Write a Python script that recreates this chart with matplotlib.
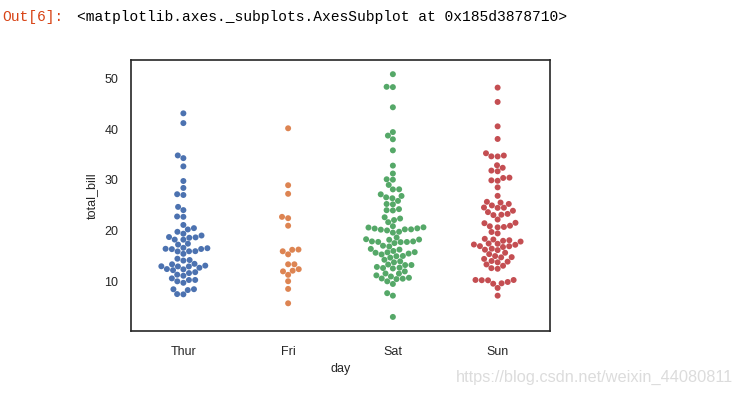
import pandas as pd
import matplotlib
matplotlib.use('Agg')
import matplotlib.pyplot as plt
import seaborn as sns

# total_bill by day (tips data)
days = ['Thur', 'Fri', 'Sat', 'Sun']

thur_bill = [27.20, 22.76, 17.29, 19.44, 16.66, 10.07, 32.68, 15.98, 34.83, 13.03,
             18.28, 24.71, 21.16, 10.65, 12.43, 24.08, 11.69, 13.42, 14.26, 15.95,
             12.48, 29.80, 8.52, 14.52, 11.38, 22.82, 19.08, 20.27, 11.17, 12.26,
             18.26, 8.51, 10.33, 14.15, 16.00, 13.16, 17.47, 34.30, 41.19, 27.05,
             16.43, 8.35, 18.64, 11.87, 9.78, 7.51, 19.81, 28.44, 15.48, 16.58,
             7.56, 10.34, 43.11, 13.00, 13.51, 18.71, 12.74, 13.00, 16.40, 20.53,
             16.47, 18.78]
fri_bill = [28.97, 22.49, 5.75, 16.32, 22.75, 40.17, 27.28, 12.03, 21.01, 12.46,
            11.35, 15.38, 12.16, 13.42, 8.58, 15.98, 13.42, 16.27, 10.09]
sat_bill = [20.65, 17.92, 20.29, 15.77, 39.42, 19.82, 17.81, 13.37, 12.69, 21.70,
            19.65, 9.55, 18.35, 15.06, 20.69, 17.78, 24.06, 16.31, 16.93, 18.69,
            31.27, 16.04, 38.01, 26.41, 11.24, 48.27, 20.29, 13.81, 11.02, 18.29,
            17.59, 20.08, 16.45, 3.07, 20.23, 15.01, 12.02, 17.07, 26.86, 25.28,
            14.73, 10.51, 17.92, 44.30, 22.42, 20.92, 15.36, 20.49, 25.21, 18.24,
            14.31, 14.00, 7.25, 10.59, 10.63, 50.81, 15.81, 26.59, 38.73, 24.27,
            12.76, 30.06, 25.89, 48.33, 13.27, 28.17, 12.90, 28.15, 11.59, 7.74,
            30.14, 20.45, 13.28, 22.12, 24.01, 15.69, 11.61, 10.77, 15.53, 10.07,
            12.60, 32.83, 35.83, 29.03, 27.18, 22.67, 17.82]
sun_bill = [16.99, 10.34, 21.01, 23.68, 24.59, 25.29, 8.77, 26.88, 15.04, 14.78,
            10.27, 35.26, 15.42, 18.43, 14.83, 21.58, 10.33, 16.29, 16.97, 17.46,
            13.94, 9.68, 30.40, 18.29, 22.23, 32.40, 28.55, 18.04, 12.54, 10.29,
            34.81, 9.94, 25.56, 19.49, 38.07, 23.95, 25.71, 17.31, 29.93, 14.07,
            13.13, 17.26, 24.55, 19.77, 29.85, 48.17, 25.00, 13.39, 16.49, 21.50,
            12.66, 16.21, 13.81, 17.51, 24.52, 20.76, 31.71, 7.25, 31.85, 16.82,
            32.90, 17.89, 14.48, 9.60, 34.63, 34.65, 23.33, 45.35, 23.17, 40.55,
            20.69, 20.90, 30.46, 18.15, 23.10, 15.69]

tips = pd.DataFrame({
    'day': ['Thur'] * len(thur_bill) + ['Fri'] * len(fri_bill)
           + ['Sat'] * len(sat_bill) + ['Sun'] * len(sun_bill),
    'total_bill': thur_bill + fri_bill + sat_bill + sun_bill,
})
tips['day'] = pd.Categorical(tips['day'], categories=days, ordered=True)

sns.set_style('white')
plt.rcParams['font.family'] = ['Liberation Sans', 'DejaVu Sans']
plt.rcParams['axes.edgecolor'] = '.15'

fig = plt.figure(figsize=(7.41, 3.95), dpi=100)
ax = fig.add_axes([131 / 741, 1 - 331 / 395, 419 / 741, 271 / 395])

sns.swarmplot(data=tips, x='day', y='total_bill', hue='day', order=days,
              palette='deep', size=4.3, linewidth=0, legend=False, ax=ax)

ax.set_ylim(0.3, 53.6)
ax.set_yticks([10, 20, 30, 40, 50])
ax.tick_params(labelsize=9, colors='.15', length=0, pad=9)
ax.tick_params(axis='x', pad=11)
ax.set_xlabel('day', fontsize=9, color='.15', labelpad=3.5)
ax.set_ylabel('total_bill', fontsize=9, color='.15', labelpad=5)
for s in ax.spines.values():
    s.set_linewidth(1.2)

# notebook output line and watermark
fig.text(2 / 741, 1 - 17 / 395, 'Out[6]:', color='#d84315', fontsize=10.5,
         family='Liberation Mono', va='center')
fig.text(77 / 741, 1 - 17 / 395,
         '<matplotlib.axes._subplots.AxesSubplot at 0x185d3878710>',
         color='black', fontsize=10.5, family='Liberation Mono', va='center')
fig.text(733 / 741, 1 - 377 / 395, 'https://blog.csdn.net/weixin_44080811',
         color='#dcdcdc', fontsize=11.8, ha='right', va='center')

fig.savefig('out.png', dpi=100)
